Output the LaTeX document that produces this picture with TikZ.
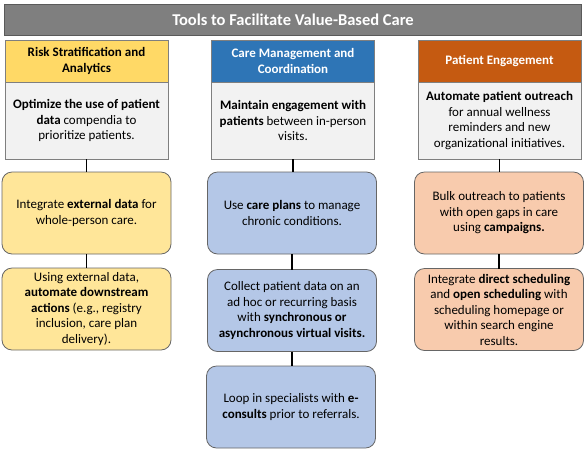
\documentclass[tikz,border=0pt]{standalone}
\usepackage{fontspec}
\setmainfont{Carlito}
\definecolor{titlegray}{HTML}{7F7F7F}
\definecolor{titleedge}{HTML}{5A5A5A}
\definecolor{hyellow}{HTML}{FFD966}
\definecolor{hblue}{HTML}{2E75B6}
\definecolor{horange}{HTML}{C55A11}
\definecolor{bodygray}{HTML}{F2F2F2}
\definecolor{edgegray}{HTML}{7F7F7F}
\definecolor{ryellow}{HTML}{FFE699}
\definecolor{rblue}{HTML}{B4C7E7}
\definecolor{rorange}{HTML}{F8CBAD}
\definecolor{redge}{HTML}{666666}
\begin{document}
\begin{tikzpicture}[x=1pt,y=-1pt,
  base/.style={inner sep=0pt, outer sep=0pt, align=center, font=\fontsize{13}{15.5}\selectfont},
  titlebar/.style={base, draw=titleedge, line width=1.2pt, fill=titlegray, text=white, minimum width=577, minimum height=31, font=\fontsize{16.5}{19}\selectfont\bfseries},
  header/.style={base, draw=edgegray, line width=0.8pt, minimum width=163, minimum height=42, font=\fontsize{13}{15.5}\selectfont\bfseries},
  bodybox/.style={base, draw=edgegray, line width=0.8pt, fill=bodygray, text=black, minimum width=163, minimum height=77},
  rbox/.style={base, draw=redge, line width=0.8pt, rounded corners=10pt, minimum width=169, minimum height=82},
  link/.style={line width=1.4pt, black}
]
\useasboundingbox (0,0) rectangle (586,451);

\node[titlebar] (title) at (293,20) {Tools to Facilitate Value-Based Care};

% headers
\node[header, fill=hyellow, text=black] (hL) at (86.5,61) {Risk Stratification and\\Analytics};
\node[header, fill=hblue, text=white] (hM) at (293,61) {Care Management and\\Coordination};
\node[header, fill=horange, text=white] (hR) at (499.5,61) {Patient Engagement};

% bodies
\node[bodybox] (bL) at (86.5,120.5) {\textbf{Optimize the use of patient}\\\textbf{data} compendia to\\prioritize patients.};
\node[bodybox] (bM) at (293,120.5) {\textbf{Maintain engagement with}\\\textbf{patients} between in-person\\visits.};
\node[bodybox] (bR) at (499.5,120.5) {\textbf{Automate patient outreach}\\for annual wellness\\reminders and new\\organizational initiatives.};

% rounded boxes
\node[rbox, fill=ryellow] (y1) at (86.5,213) {Integrate \textbf{external data} for\\whole-person care.};
\node[rbox, fill=ryellow] (y2) at (86.5,309) {Using external data,\\\textbf{automate downstream}\\\textbf{actions} (e.g., registry\\inclusion, care plan\\delivery).};

\node[rbox, fill=rblue] (m1) at (292,213) {Use \textbf{care plans} to manage\\chronic conditions.};
\node[rbox, fill=rblue] (m2) at (292,310.5) {Collect patient data on an\\ad hoc or recurring basis\\with \textbf{synchronous or}\\\textbf{asynchronous virtual visits.}};
\node[rbox, fill=rblue] (m3) at (291,407) {Loop in specialists with \textbf{e-}\\\textbf{consults} prior to referrals.};

\node[rbox, fill=rorange] (o1) at (499,213) {Bulk outreach to patients\\with open gaps in care\\using \textbf{campaigns.}};
\node[rbox, fill=rorange] (o2) at (499,309.5) {Integrate \textbf{direct scheduling}\\and \textbf{open scheduling} with\\scheduling homepage or\\within search engine\\results.};

% connectors
\draw[link] (bL.south) -- (y1.north);
\draw[link] (y1.south) -- (y2.north);
\draw[link] (bM.south) -- (bM.south |- m1.north);
\draw[link] (m1.south) -- (m1.south |- m2.north);
\draw[link] (m2.south) -- (m2.south |- m3.north);
\draw[link] (bR.south) -- (bR.south |- o1.north);
\draw[link] (o1.south) -- (o1.south |- o2.north);
\end{tikzpicture}
\end{document}
